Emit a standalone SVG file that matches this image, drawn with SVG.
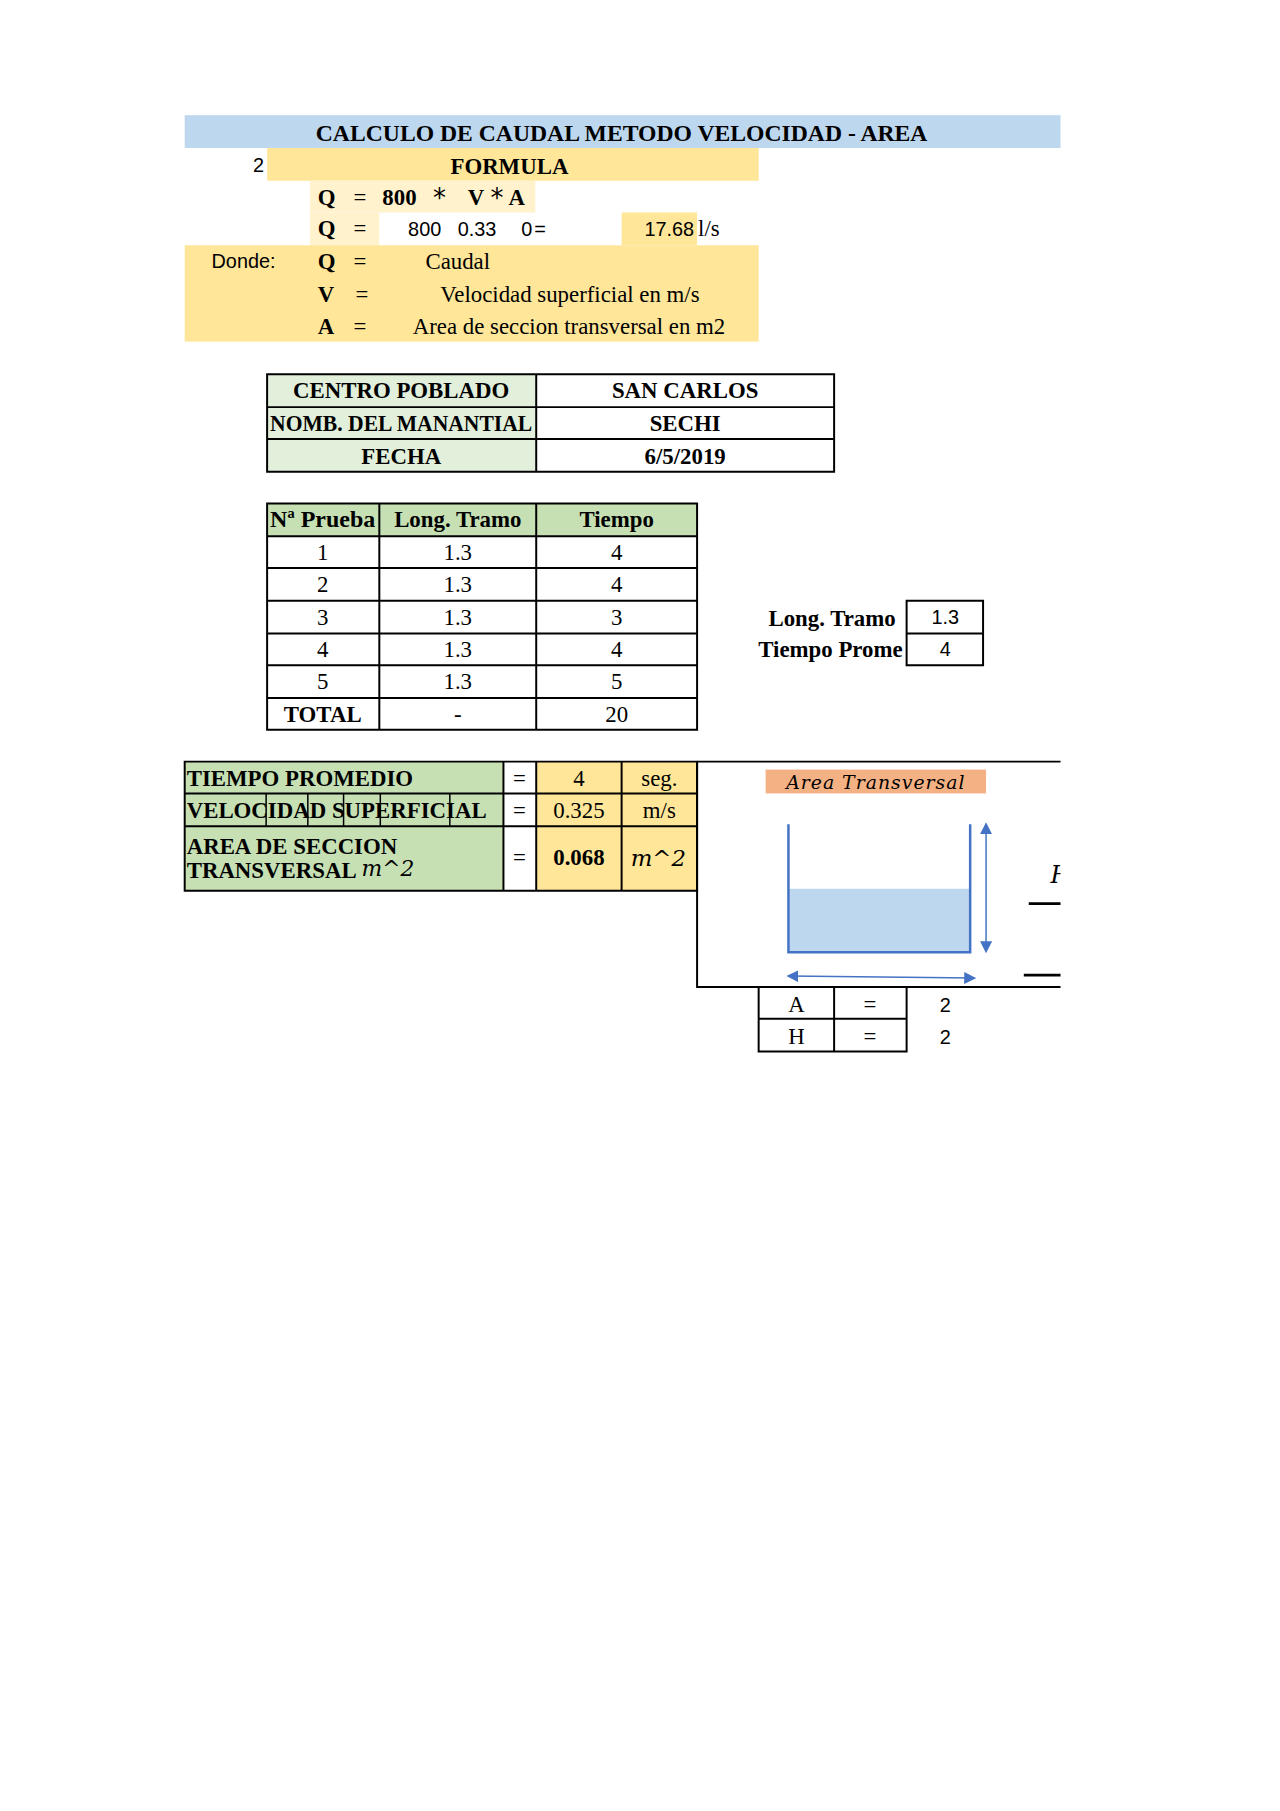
<svg xmlns="http://www.w3.org/2000/svg" width="1280" height="1811" viewBox="0 0 1280 1811">
<style>
.s{font-family:"Liberation Serif",serif;font-size:23px;fill:#000}
.b{font-weight:bold}
.a{font-family:"Liberation Sans",sans-serif;font-size:20px;fill:#000}
.m{font-family:"DejaVu Serif",serif;font-style:italic;fill:#000}
.k{font-family:"DejaVu Sans",sans-serif;font-size:26px;fill:#000}
.c{text-anchor:middle}
.r{text-anchor:end}
.g{stroke:#000;stroke-width:2;fill:none}
</style>
<defs>
<marker id="ar" markerWidth="12" markerHeight="12" refX="10" refY="6" orient="auto-start-reverse" markerUnits="userSpaceOnUse" viewBox="0 0 12 12"><path d="M0,0 L12,6 L0,12z" fill="#4472c4"/></marker>
<clipPath id="cp"><rect x="700" y="760" width="368" height="240"/></clipPath>
</defs>
<rect width="1280" height="1811" fill="#fff"/>
<g transform="scale(0.993)">
<g id="header">
<rect x="186" y="116" width="882" height="33" fill="#bdd7ee"/>
<text class="s b c" x="626" y="142" font-size="23" textLength="616" lengthAdjust="spacingAndGlyphs">CALCULO DE CAUDAL METODO VELOCIDAD - AREA</text>
<rect x="269" y="149" width="495" height="33" fill="#ffe699"/>
<text class="a r" x="266" y="173">2</text>
<text class="s b c" x="513" y="175">FORMULA</text>
<rect x="312" y="182" width="227" height="32" fill="#fff2cc"/>
<rect x="312" y="214" width="70" height="33" fill="#fff2cc"/>
<rect x="626" y="214" width="76" height="33" fill="#ffe699"/>
<text class="s b" x="320" y="206">Q</text><text class="s" x="356" y="206">=</text>
<text class="s b" x="385" y="206">800</text><text class="k" x="436" y="208">*</text>
<text class="s b" x="471" y="206">V</text><text class="k" x="494" y="208">*</text><text class="s b" x="512" y="206">A</text>
<text class="s b" x="320" y="238">Q</text><text class="s" x="356" y="238">=</text>
<text class="a" x="411" y="238">800</text><text class="a" x="461" y="238">0.33</text>
<text class="a" x="525" y="238">0</text><text class="a" x="538" y="238" font-size="16">=</text>
<text class="a r" x="699" y="238">17.68</text><text class="s" x="703" y="238">l/s</text>
<rect x="186" y="247" width="578" height="97" fill="#ffe699"/>
<text class="a" x="213" y="270">Donde:</text>
<text class="s b" x="320" y="271">Q</text><text class="s" x="356" y="271">=</text><text class="s c" x="461" y="271">Caudal</text>
<text class="s b" x="320" y="304">V</text><text class="s" x="358" y="304">=</text><text class="s c" x="574" y="304">Velocidad superficial en m/s</text>
<text class="s b" x="320" y="336">A</text><text class="s" x="356" y="336">=</text><text class="s c" x="573" y="336">Area de seccion transversal en m2</text>
</g>
<g id="info">
<rect x="269" y="377" width="271" height="98" fill="#e2efda"/>
<path class="g" d="M269,377H840V475H269Z M540,377V475 M269,410H840 M269,442H840"/>
<text class="s b c" x="404" y="401" font-size="22">CENTRO POBLADO</text><text class="s b c" x="690" y="401" font-size="22">SAN CARLOS</text>
<text class="s b c" x="404" y="434" font-size="22" textLength="264" lengthAdjust="spacingAndGlyphs">NOMB. DEL MANANTIAL</text><text class="s b c" x="690" y="434" font-size="22">SECHI</text>
<text class="s b c" x="404" y="467" font-size="22">FECHA</text><text class="s b c" x="690" y="467" font-size="22">6/5/2019</text>
</g>
<g id="tests">
<rect x="269" y="507" width="433" height="33" fill="#c6e0b4"/>
<path class="g" d="M269,507H702V735H269Z M382,507V735 M540,507V735 M269,540H702 M269,572H702 M269,605H702 M269,638H702 M269,670H702 M269,703H702"/>
<text class="s b c" x="325" y="531" textLength="106" lengthAdjust="spacingAndGlyphs">Nª Prueba</text><text class="s b c" x="461" y="531">Long. Tramo</text><text class="s b c" x="621" y="531">Tiempo</text>
<g class="s c">
<text x="325" y="564">1</text><text x="461" y="564">1.3</text><text x="621" y="564">4</text>
<text x="325" y="596">2</text><text x="461" y="596">1.3</text><text x="621" y="596">4</text>
<text x="325" y="629">3</text><text x="461" y="629">1.3</text><text x="621" y="629">3</text>
<text x="325" y="662">4</text><text x="461" y="662">1.3</text><text x="621" y="662">4</text>
<text x="325" y="694">5</text><text x="461" y="694">1.3</text><text x="621" y="694">5</text>
<text x="461" y="727">-</text><text x="621" y="727">20</text>
</g>
<text class="s b c" x="325" y="727">TOTAL</text>
</g>
<g id="avg">
<path class="g" d="M913,605H990V670H913Z M913,638H990"/>
<text class="s b r" x="902" y="630" font-size="20">Long. Tramo</text>
<text class="s b r" x="909" y="662" font-size="20">Tiempo Prome</text>
<text class="a c" x="952" y="628">1.3</text><text class="a c" x="952" y="661">4</text>
</g>
<g id="results">
<rect x="186" y="767" width="321" height="130" fill="#c6e0b4"/>
<rect x="540" y="767" width="162" height="130" fill="#ffe699"/>
<path class="g" d="M186,767H702V897H186Z M507,767V897 M540,767V897 M626,767V897 M186,799H702 M186,832H702"/>
<path stroke="#000" stroke-width="1.5" d="M268,799V832 M310,799V832 M346,799V832 M383,799V832 M453,799V832"/>
<text class="s b" x="188" y="792" font-size="21">TIEMPO PROMEDIO</text>
<text class="s b" x="188" y="824" font-size="21">VELOCIDAD SUPERFICIAL</text>
<text class="s b" x="188" y="860" font-size="21">AREA DE SECCION</text>
<text class="s b" x="188" y="884" font-size="21">TRANSVERSAL</text>
<text class="m" x="364" y="882" font-size="22">m^2</text>
<text class="s c" x="523" y="792">=</text><text class="s c" x="523" y="824">=</text><text class="s c" x="523" y="871">=</text>
<text class="s c" x="583" y="792">4</text><text class="s c" x="583" y="824">0.325</text><text class="s b c" x="583" y="871">0.068</text>
<text class="s c" x="664" y="792">seg.</text><text class="s c" x="664" y="824">m/s</text>
<text class="m c" x="663" y="872" font-size="23">m^2</text>
</g>
<g id="section">
<path class="g" d="M702,767H1068 M702,767V994H1068"/>
<rect x="771" y="775" width="222" height="24" fill="#f4b183"/>
<text class="m c" x="882" y="795" letter-spacing="1" font-size="19">Area Transversal</text>
<rect x="794" y="895" width="183" height="64" fill="#bdd7ee"/>
<path d="M794,830V959H977V830" stroke="#4472c4" stroke-width="2.5" fill="none"/>
<line x1="993" y1="830" x2="993" y2="958" stroke="#4472c4" stroke-width="1.5" marker-start="url(#ar)" marker-end="url(#ar)"/>
<line x1="794" y1="983" x2="981" y2="985" stroke="#4472c4" stroke-width="1.5" marker-start="url(#ar)" marker-end="url(#ar)"/>
<g clip-path="url(#cp)"><text class="m" x="1058" y="889" font-size="24">H</text></g>
<path stroke="#000" stroke-width="3" d="M1036,910H1068 M1031,982H1068"/>
</g>
<g id="ah">
<path class="g" d="M764,994V1059H913V994 M764,1026H913 M840,994V1059"/>
<text class="s c" x="802" y="1019">A</text><text class="s c" x="876" y="1019">=</text><text class="a c" x="952" y="1019">2</text>
<text class="s c" x="802" y="1051">H</text><text class="s c" x="876" y="1051">=</text><text class="a c" x="952" y="1051">2</text>
</g>
</g>
</svg>
